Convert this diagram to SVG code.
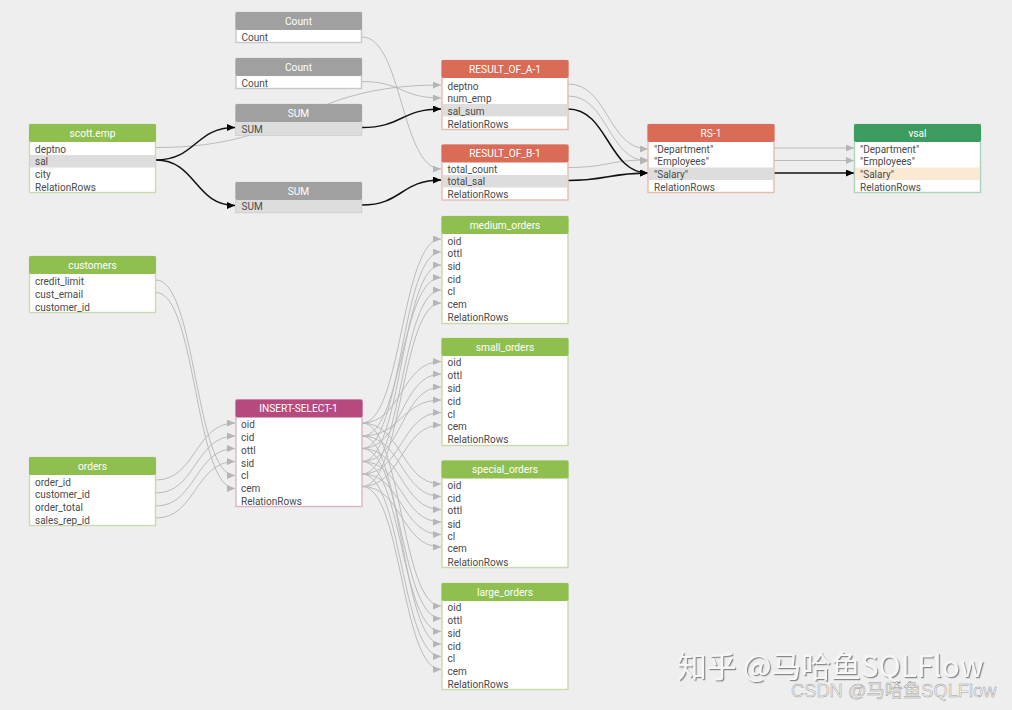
<svg xmlns="http://www.w3.org/2000/svg" width="1012" height="710" viewBox="0 0 1012 710">
<style>
text{font-family:Roboto,"Liberation Sans",sans-serif;font-size:10px;fill:#4a4a4a}
.h{fill:#fff;text-anchor:middle;font-size:10.200px}
.box{fill:#fff;stroke-width:1.4}
.gb{stroke:#c8dbab}.rb{stroke:#e6bab1}.db{stroke:#add3bc}.mb{stroke:#dcb4c9}.nb{stroke:#c8c8c8}
.g{fill:#8fc04f}.r{fill:#d96b57}.d{fill:#3c9c5f}.m{fill:#b64a7e}.n{fill:#a0a0a0}
.sel{fill:#ddd}.tgt{fill:#fbe9d4}
.c{fill:none;stroke:#bbb;stroke-width:1}
.k{fill:none;stroke:#111;stroke-width:1.5}
.w1{font-family:"Noto Sans CJK SC","Liberation Sans",sans-serif;font-size:29.800px;fill:#f6f6f6;filter:url(#sh)}
.w2{font-family:"Liberation Sans","Noto Sans CJK SC",sans-serif;font-size:18.300px;fill:#f2f2f2;stroke:#999;stroke-width:.45}
</style>
<defs>
<marker id="ag" markerUnits="userSpaceOnUse" markerWidth="9" markerHeight="8" refX="8" refY="3.500" orient="auto"><path d="M0 0L8 3.500L0 7z" fill="#b5b5b5"/></marker>
<marker id="ak" markerUnits="userSpaceOnUse" markerWidth="9" markerHeight="8" refX="8" refY="3.500" orient="auto"><path d="M0 0L8 3.500L0 7z" fill="#000"/></marker>
<filter id="sh" x="-5%" y="-20%" width="110%" height="140%"><feDropShadow dx="1.200" dy="1.200" stdDeviation=".5" flood-color="#888"/></filter>
</defs>
<rect width="1012" height="710" fill="#eee"/>
<g id="connectors">
<path class="c" marker-end="url(#ag)" d="M156 147.500C298 147.500 299 85 441 85"/>
<path class="c" marker-end="url(#ag)" d="M362 37C402 37 401 169 441 169"/>
<path class="c" marker-end="url(#ag)" d="M362 81.500C402 81.500 401 98 441 98"/>
<path class="c" marker-end="url(#ag)" d="M568 84C608 84 608 149 648 149"/>
<path class="c" marker-end="url(#ag)" d="M568 96C608 96 608 161 648 161"/>
<path class="c" marker-end="url(#ag)" d="M568 167.500C608 167.500 608 160 648 160"/>
<path class="c" marker-end="url(#ag)" d="M774 148H854"/>
<path class="c" marker-end="url(#ag)" d="M774 160.500H854"/>
<path class="c" marker-end="url(#ag)" d="M156 280C196 280 195 475.500 235 475.500"/>
<path class="c" marker-end="url(#ag)" d="M156 292.500C196 292.500 195 488.500 235 488.500"/>
<path class="c" marker-end="url(#ag)" d="M156 480C196 480 195 423 235 423"/>
<path class="c" marker-end="url(#ag)" d="M156 493C196 493 195 436 235 436"/>
<path class="c" marker-end="url(#ag)" d="M156 506C196 506 195 448.500 235 448.500"/>
<path class="c" marker-end="url(#ag)" d="M156 518C196 518 195 461.500 235 461.500"/>
<path class="c" marker-end="url(#ag)" d="M362 423C402 423 401 239 441 239"/>
<path class="c" marker-end="url(#ag)" d="M362 448.500C402 448.500 401 252 441 252"/>
<path class="c" marker-end="url(#ag)" d="M362 461.500C402 461.500 401 265 441 265"/>
<path class="c" marker-end="url(#ag)" d="M362 436C402 436 401 277.500 441 277.500"/>
<path class="c" marker-end="url(#ag)" d="M362 474C402 474 401 290 441 290"/>
<path class="c" marker-end="url(#ag)" d="M362 486.500C402 486.500 401 303 441 303"/>
<path class="c" marker-end="url(#ag)" d="M362 423C402 423 401 361.500 441 361.500"/>
<path class="c" marker-end="url(#ag)" d="M362 448.500C402 448.500 401 374 441 374"/>
<path class="c" marker-end="url(#ag)" d="M362 461.500C402 461.500 401 387 441 387"/>
<path class="c" marker-end="url(#ag)" d="M362 436C402 436 401 400 441 400"/>
<path class="c" marker-end="url(#ag)" d="M362 474C402 474 401 412.500 441 412.500"/>
<path class="c" marker-end="url(#ag)" d="M362 486.500C402 486.500 401 425 441 425"/>
<path class="c" marker-end="url(#ag)" d="M362 423C402 423 401 484 441 484"/>
<path class="c" marker-end="url(#ag)" d="M362 436C402 436 401 496.500 441 496.500"/>
<path class="c" marker-end="url(#ag)" d="M362 448.500C402 448.500 401 509.500 441 509.500"/>
<path class="c" marker-end="url(#ag)" d="M362 461.500C402 461.500 401 522 441 522"/>
<path class="c" marker-end="url(#ag)" d="M362 474C402 474 401 534.500 441 534.500"/>
<path class="c" marker-end="url(#ag)" d="M362 486.500C402 486.500 401 547 441 547"/>
<path class="c" marker-end="url(#ag)" d="M362 423C402 423 401 606 441 606"/>
<path class="c" marker-end="url(#ag)" d="M362 448.500C402 448.500 401 618.500 441 618.500"/>
<path class="c" marker-end="url(#ag)" d="M362 461.500C402 461.500 401 631.500 441 631.500"/>
<path class="c" marker-end="url(#ag)" d="M362 436C402 436 401 644 441 644"/>
<path class="c" marker-end="url(#ag)" d="M362 474C402 474 401 656.500 441 656.500"/>
<path class="c" marker-end="url(#ag)" d="M362 486.500C402 486.500 401 669.500 441 669.500"/>
<path class="k" marker-end="url(#ak)" d="M156 160C196 160 195 127.500 235 127.500"/>
<path class="k" marker-end="url(#ak)" d="M156 160C196 160 195 205.500 235 205.500"/>
<path class="k" marker-end="url(#ak)" d="M362 127.500C402 127.500 401 109 441 109"/>
<path class="k" marker-end="url(#ak)" d="M362 205C402 205 401 180 441 180"/>
<path class="k" marker-end="url(#ak)" d="M568 109C608 109 608 173 648 173"/>
<path class="k" marker-end="url(#ak)" d="M568 180.500C608 180.500 608 173 648 173"/>
<path class="k" marker-end="url(#ak)" d="M774 173H854"/>
</g>
<g id="scott-emp"><rect class="box gb" x="29.500" y="124.500" width="126" height="68"/><rect class="g" x="29" y="124" width="127" height="18" rx="2"/><rect class="sel" x="30" y="155" width="125" height="12.500"/><text class="h" x="92.500" y="136.500">scott.emp</text><text x="35" y="153">deptno</text><text x="35" y="165">sal</text><text x="35" y="178">city</text><text x="35" y="191">RelationRows</text></g>
<g id="count-1"><rect class="box nb" x="236" y="12.500" width="125.500" height="30"/><rect class="n" x="235.500" y="12" width="126.500" height="18" rx="2"/><text class="h" x="298.500" y="24.500">Count</text><text x="241.500" y="40.500">Count</text></g>
<g id="count-2"><rect class="box nb" x="236" y="58.500" width="125.500" height="30"/><rect class="n" x="235.500" y="58" width="126.500" height="18" rx="2"/><text class="h" x="298.500" y="71">Count</text><text x="241.500" y="87">Count</text></g>
<g id="sum-1"><rect class="box nb" x="236" y="104.500" width="125.500" height="30.500"/><rect class="n" x="235.500" y="104" width="126.500" height="18" rx="2"/><rect class="sel" x="236" y="122" width="125.500" height="13"/><text class="h" x="298.500" y="116.500">SUM</text><text x="241.500" y="133">SUM</text></g>
<g id="sum-2"><rect class="box nb" x="236" y="182.500" width="125.500" height="30"/><rect class="n" x="235.500" y="182" width="126.500" height="18" rx="2"/><rect class="sel" x="236" y="200" width="125.500" height="12.500"/><text class="h" x="298.500" y="194.500">SUM</text><text x="241.500" y="210">SUM</text></g>
<g id="result-a"><rect class="box rb" x="442" y="60.500" width="126" height="69"/><rect class="r" x="441.500" y="60" width="127" height="18" rx="2"/><rect class="sel" x="443" y="104" width="124.500" height="12.500"/><text class="h" x="505" y="73">RESULT_OF_A-1</text><text x="447.500" y="89.500">deptno</text><text x="447.500" y="102">num_emp</text><text x="447.500" y="114.500">sal_sum</text><text x="447.500" y="127.500">RelationRows</text></g>
<g id="result-b"><rect class="box rb" x="442" y="145" width="126" height="55"/><rect class="r" x="441.500" y="144.500" width="127" height="18" rx="2"/><rect class="sel" x="443" y="175" width="124.500" height="12.500"/><text class="h" x="505" y="157">RESULT_OF_B-1</text><text x="447.500" y="173">total_count</text><text x="447.500" y="185">total_sal</text><text x="447.500" y="198">RelationRows</text></g>
<g id="rs-1"><rect class="box rb" x="648" y="124.500" width="126" height="68"/><rect class="r" x="647.500" y="124" width="127" height="18" rx="2"/><rect class="sel" x="649" y="167.500" width="124.500" height="12.500"/><text class="h" x="711" y="136.500">RS-1</text><text x="654" y="153">"Department"</text><text x="654" y="165">"Employees"</text><text x="654" y="178">"Salary"</text><text x="654" y="191">RelationRows</text></g>
<g id="vsal"><rect class="box db" x="854.500" y="124.500" width="126" height="68"/><rect class="d" x="854" y="124" width="127" height="18" rx="2"/><rect class="tgt" x="855" y="167.500" width="125" height="12.500"/><text class="h" x="917.500" y="136.500">vsal</text><text x="860" y="153">"Department"</text><text x="860" y="165">"Employees"</text><text x="860" y="178">"Salary"</text><text x="860" y="191">RelationRows</text></g>
<g id="customers"><rect class="box gb" x="29.500" y="256.500" width="126" height="56"/><rect class="g" x="29" y="256" width="127" height="18" rx="2"/><text class="h" x="92.500" y="269">customers</text><text x="35" y="285">credit_limit</text><text x="35" y="298">cust_email</text><text x="35" y="311">customer_id</text></g>
<g id="orders"><rect class="box gb" x="29.500" y="457.500" width="126" height="68"/><rect class="g" x="29" y="457" width="127" height="18" rx="2"/><text class="h" x="92.500" y="469.500">orders</text><text x="35" y="486">order_id</text><text x="35" y="498">customer_id</text><text x="35" y="511">order_total</text><text x="35" y="524">sales_rep_id</text></g>
<g id="insert-select-1"><rect class="box mb" x="236" y="400" width="126" height="106.500"/><rect class="m" x="235.500" y="399.500" width="127" height="18" rx="2"/><text class="h" x="298.500" y="412">INSERT-SELECT-1</text><text x="241" y="428">oid</text><text x="241" y="441">cid</text><text x="241" y="454">ottl</text><text x="241" y="466.500">sid</text><text x="241" y="479">cl</text><text x="241" y="492">cem</text><text x="241" y="504.500">RelationRows</text></g>
<g id="medium-orders"><rect class="box gb" x="442" y="216.500" width="126" height="107"/><rect class="g" x="441.500" y="216" width="127" height="18" rx="2"/><text class="h" x="505" y="228.500">medium_orders</text><text x="447.500" y="244.500">oid</text><text x="447.500" y="257">ottl</text><text x="447.500" y="270">sid</text><text x="447.500" y="283">cid</text><text x="447.500" y="295">cl</text><text x="447.500" y="308">cem</text><text x="447.500" y="321">RelationRows</text></g>
<g id="small-orders"><rect class="box gb" x="442" y="338.500" width="126" height="107"/><rect class="g" x="441.500" y="338" width="127" height="18" rx="2"/><text class="h" x="505" y="350.500">small_orders</text><text x="447.500" y="366">oid</text><text x="447.500" y="379">ottl</text><text x="447.500" y="392">sid</text><text x="447.500" y="404.500">cid</text><text x="447.500" y="417.500">cl</text><text x="447.500" y="430">cem</text><text x="447.500" y="443">RelationRows</text></g>
<g id="special-orders"><rect class="box gb" x="442" y="461" width="126" height="106.500"/><rect class="g" x="441.500" y="460.500" width="127" height="18" rx="2"/><text class="h" x="505" y="473">special_orders</text><text x="447.500" y="489">oid</text><text x="447.500" y="501.500">cid</text><text x="447.500" y="514">ottl</text><text x="447.500" y="527.500">sid</text><text x="447.500" y="540">cl</text><text x="447.500" y="552">cem</text><text x="447.500" y="565.500">RelationRows</text></g>
<g id="large-orders"><rect class="box gb" x="442" y="583.500" width="126" height="106"/><rect class="g" x="441.500" y="583" width="127" height="18" rx="2"/><text class="h" x="505" y="595.500">large_orders</text><text x="447.500" y="611">oid</text><text x="447.500" y="623.500">ottl</text><text x="447.500" y="636.500">sid</text><text x="447.500" y="649.500">cid</text><text x="447.500" y="661.500">cl</text><text x="447.500" y="675">cem</text><text x="447.500" y="687.500">RelationRows</text></g>
<text class="w1" x="677" y="677">知乎 @马哈鱼SQLFlow</text>
<text class="w2" x="791" y="697">CSDN @马哈鱼SQLFlow</text>
</svg>
